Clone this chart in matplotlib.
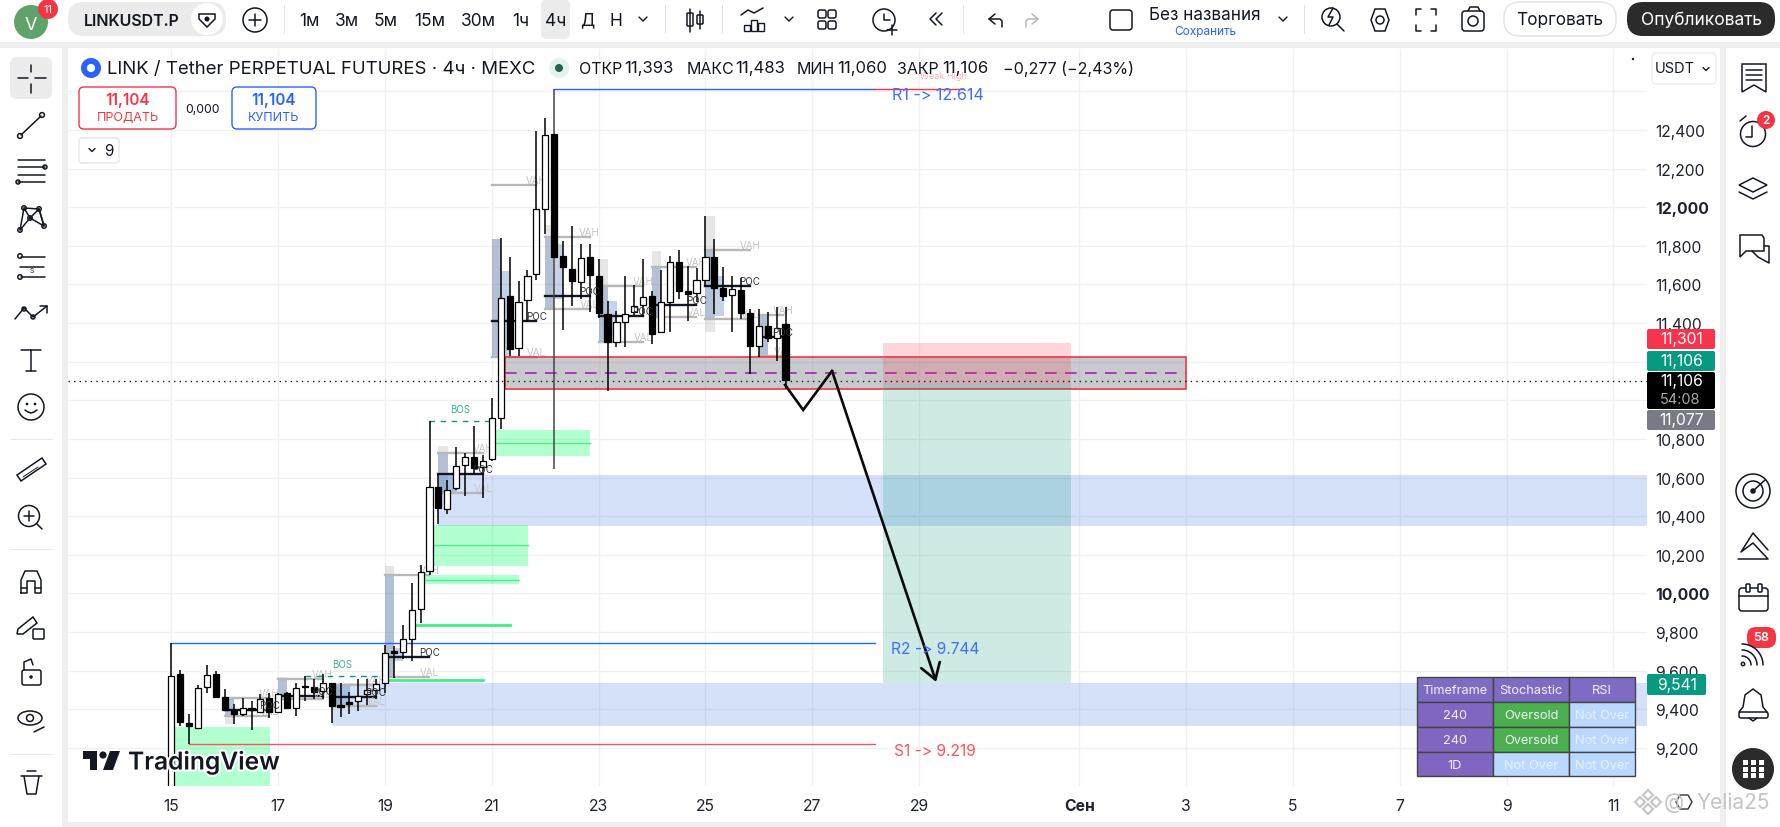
import numpy as np
import matplotlib
matplotlib.use('Agg')
import matplotlib.pyplot as plt
import matplotlib.patheffects as pe
from matplotlib.patches import Rectangle, FancyBboxPatch, Circle, Polygon, Ellipse

plt.rcParams['font.family'] = ['Inter', 'Noto Sans', 'DejaVu Sans']

# candles, 4h each, first one at day 0 (15 Aug)
opens = [8950, 9585, 9330, 9305, 9516, 9585, 9464, 9395, 9374, 9409, 9388, 9461, 9387, 9487,
         9405, 9521, 9518, 9495, 9538, 9423, 9437, 9443, 9478, 9500, 9537, 9702, 9697, 9762,
         9917, 10115, 10550, 10435, 10544, 10663, 10708, 10654, 10694, 10906, 11538, 11269,
         11521, 11654, 11991, 12379, 11746, 11680, 11611, 11740, 11642, 11447, 11300, 11407,
         11456, 11494, 11538, 11352, 11511, 11714, 11564, 11556, 11625, 11740, 11580, 11547,
         11573, 11452, 11283, 11383, 11325, 11393]
highs = [9744, 9602, 9378, 9525, 9630, 9599, 9504, 9426, 9461, 9443, 9481, 9487, 9487, 9492,
         9538, 9573, 9556, 9582, 9538, 9538, 9492, 9556, 9556, 9556, 9733, 9728, 9839, 10055,
         10147, 10892, 10616, 10587, 10759, 10728, 10866, 10716, 11010, 11839, 11740, 11620,
         11676, 12396, 12460, 12612, 11827, 11901, 11809, 11809, 11732, 11516, 11464, 11645,
         11597, 11732, 11568, 11675, 11746, 11778, 11697, 11685, 11956, 11835, 11692, 11645,
         11632, 11473, 11473, 11456, 11482, 11483]
lows = [8900, 9314, 9219, 9305, 9487, 9464, 9390, 9323, 9366, 9292, 9388, 9357, 9387, 9405,
        9366, 9443, 9452, 9452, 9331, 9361, 9378, 9392, 9423, 9452, 9487, 9564, 9658, 9650,
        9848, 10098, 10361, 10409, 10535, 10507, 10616, 10495, 10685, 10854, 11231, 11231,
        11404, 11625, 11861, 10645, 11366, 11487, 11525, 11459, 11424, 11050, 11274, 11274,
        11438, 11438, 11292, 11352, 11355, 11525, 11412, 11507, 11594, 11447, 11513, 11352,
        11421, 11136, 11223, 11300, 11205, 11060]
closes = [9571, 9336, 9314, 9509, 9578, 9464, 9397, 9374, 9405, 9395, 9456, 9388, 9481, 9409,
          9509, 9516, 9492, 9535, 9416, 9412, 9430, 9469, 9499, 9530, 9693, 9692, 9762, 9914,
          10112, 10550, 10440, 10538, 10659, 10706, 10647, 10688, 10906, 11528, 11266, 11511,
          11645, 11991, 12374, 11740, 11689, 11616, 11737, 11649, 11452, 11304, 11407, 11445,
          11490, 11533, 11343, 11507, 11714, 11564, 11549, 11625, 11740, 11580, 11542, 11577,
          11452, 11280, 11387, 11321, 11376, 11106]

# daily volume profile levels
vp_day = [1, 2, 3, 4, 5, 6, 7, 8, 9, 10, 11]
vp_vah = [9461, 9559, 9526, 10098, 10728, 12115, 11844, 11594, 11689, 11778, 11442]
vp_poc = [9399, 9469, 9464, 9671, 10616, 11409, 11542, 11438, 11495, 11594, 11326]
vp_val = [9366, 9452, 9418, 9568, 10521, 11223, 11473, 11300, 11433, 11421, 11231]
vp_len = [0.83, 0.83, 0.83, 0.83, 0.83, 0.83, 0.83, 0.83, 0.83, 0.83, 0.45]
col_top = [9461, 9559, 9526, 10098, 10728, 11835, 11844, 11594, 11689, 11778, 11442]
col_bot = [9366, 9469, 9418, 9568, 10521, 11223, 11473, 11300, 11433, 11421, 11231]
gray_top = [9461, 9565, 9526, 10141, 10763, 11835, 11908, 11732, 11775, 11956, 11442]
gray_bot = [9326, 9452, 9418, 9568, 10521, 11223, 11473, 11300, 11433, 11355, 11223]
col2_top = [None, None, 9530, 9718, 10616, 11671, 11809, 11516, None, 11642, None]
col2_bot = [None, None, 9418, 9650, 10521, 11223, 11525, 11300, None, 11438, None]

# demand boxes: start, end, top, bottom
green_x0 = [0.07, 4.90, 4.73, 6.07]
green_x1 = [1.85, 6.68, 6.51, 7.84]
green_top = [9310, 10356, 10094, 10848]
green_bot = [9000, 10142, 10051, 10712]
green_mid = [None, 10250, 10072, 10780]
thin_x0 = [4.58, 4.07]
thin_x1 = [6.34, 5.83]
thin_y = [9837, 9552]

blue_x0 = [5.0, 3.0]
blue_top = [10612, 9535]
blue_bot = [10350, 9315]

bos_x0 = [2.5, 4.83]
bos_x1 = [3.9, 5.97]
bos_y = [9570, 10892]

path_x = [11.49, 11.83, 12.37]
path_y = [11080, 10950, 11152]
arrow_tip = (14.32, 9542)

x_ticks = [0, 2, 4, 6, 8, 10, 12, 14, 17, 19, 21, 23, 25, 27]
x_labels = ['15', '17', '19', '21', '23', '25', '27', '29', 'Сен', '3', '5', '7', '9', '11']
y_ticks = list(range(9200, 12601, 200))
y_labels = ['9,200', '9,400', '9,600', '9,800', '10,000', '10,200', '10,400', '10,600', '10,800',
            '', '', '11,400', '11,600', '11,800', '12,000', '12,200', '12,400', '']

table_head = ['Timeframe', 'Stochastic', 'RSI']
table_rows = [['240', 'Oversold', 'Not Over'],
              ['240', 'Oversold', 'Not Over'],
              ['1D', 'Not Over', 'Not Over']]

intervals = ['1м', '3м', '5м', '15м', '30м', '1ч', '4ч', 'Д', 'Н']
interval_x = [309, 347, 386, 430, 478, 521, 556, 587, 616]

fig = plt.figure(figsize=(17.8, 8.28), dpi=100, facecolor='#efefef')


def pixel_axes(z):
    a = fig.add_axes([0, 0, 1, 1], zorder=z)
    a.set_xlim(0, 1780)
    a.set_ylim(828, 0)
    a.axis('off')
    a.patch.set_alpha(0)
    return a


bg = pixel_axes(0)
bg.add_patch(Rectangle((0, 0), 1780, 43, fc='white', ec='none'))
bg.add_patch(Rectangle((0, 49), 62, 779, fc='white', ec='none'))
bg.add_patch(Rectangle((68, 49), 1652, 774, fc='white', ec='none'))
bg.add_patch(Rectangle((1726, 49), 54, 779, fc='white', ec='none'))

# main chart
ax = fig.add_axes([68 / 1780, 41 / 828, 1579 / 1780, 737 / 828], zorder=1)
ax.set_xlim(-1.936, 27.63)
ax.set_ylim(9003, 12819)
ax.patch.set_alpha(0)
for s in ax.spines.values():
    s.set_visible(False)
ax.yaxis.tick_right()
ax.set_xticks(x_ticks)
ax.set_xticklabels(x_labels)
ax.set_yticks(y_ticks)
ax.set_yticklabels(y_labels)
ax.tick_params(length=0, labelsize=11.3, labelcolor='#1e222d')
ax.tick_params(axis='x', pad=9)
ax.tick_params(axis='y', pad=6)
ax.grid(color='#f1f1f1', lw=1)
ax.set_axisbelow(True)
for lab in ax.get_xticklabels():
    if lab.get_text() == 'Сен':
        lab.set_fontweight('bold')
for lab in ax.get_yticklabels():
    if lab.get_text() in ('10,000', '12,000'):
        lab.set_fontweight('bold')

# blue zones run to the right edge
for x0, t, b in zip(blue_x0, blue_top, blue_bot):
    ax.add_patch(Rectangle((x0, b), 27.63 - x0, t - b, fc='#2b6ae0', alpha=0.2, ec='none', zorder=1))

# volume profile columns and levels
for i, d in enumerate(vp_day):
    ax.add_patch(Rectangle((d, gray_bot[i]), 0.17, gray_top[i] - gray_bot[i], fc='#9e9e9e', alpha=0.25, ec='none', zorder=1.1))
    ax.add_patch(Rectangle((d, col_bot[i]), 0.17, col_top[i] - col_bot[i], fc='#2a5caa', alpha=0.27, ec='none', zorder=1.2))
    if col2_top[i] is not None:
        ax.add_patch(Rectangle((d + 0.17, col2_bot[i]), 0.17, col2_top[i] - col2_bot[i], fc='#2a5caa', alpha=0.27, ec='none', zorder=1.2))
    x1 = d + vp_len[i]
    ax.plot([d, x1], [vp_vah[i]] * 2, color='#b8b8b8', lw=1.7, zorder=1.5)
    ax.plot([d, x1], [vp_val[i]] * 2, color='#b8b8b8', lw=1.7, zorder=1.5)
    ax.plot([d, x1], [vp_poc[i]] * 2, color='#131722', lw=1.7, zorder=1.6)
    ax.text(x1, vp_vah[i], 'VAH', color='#c4c4c4', fontsize=7, ha='center', va='bottom', zorder=1.7)
    ax.text(x1, vp_val[i], 'VAL', color='#c4c4c4', fontsize=7, ha='center', va='bottom', zorder=1.7)
    ax.text(x1, vp_poc[i], 'POC', color='#333333', fontsize=7, ha='center', va='bottom', zorder=3.5)

# demand boxes
for i in range(len(green_x0)):
    ax.add_patch(Rectangle((green_x0[i], green_bot[i]), green_x1[i] - green_x0[i], green_top[i] - green_bot[i],
                           fc='#00ff66', alpha=0.3, ec='none', zorder=1.8))
    if green_mid[i] is not None:
        ax.plot([green_x0[i], green_x1[i]], [green_mid[i]] * 2, color='#4df08c', lw=1, zorder=1.9)
for x0, x1, y in zip(thin_x0, thin_x1, thin_y):
    ax.plot([x0, x1], [y, y], color='#3ef085', lw=2, zorder=1.9)

# order block
ax.add_patch(Rectangle((6.24, 11060), 12.76, 164, fc='#787b86', alpha=0.4, ec='none', zorder=2))
ax.add_patch(Rectangle((6.24, 11060), 12.76, 164, fc='none', ec='#f23645', lw=1.2, zorder=2.1))
ax.plot([6.24, 19.0], [11143, 11143], color='#9c27b0', lw=1.2, ls=(0, (7, 5)), zorder=2.1)

# short position tool
ax.add_patch(Rectangle((13.33, 11077), 3.52, 219, fc='#f23645', alpha=0.2, ec='none', zorder=2.2))
ax.add_patch(Rectangle((13.33, 9537), 3.52, 1540, fc='#089981', alpha=0.2, ec='none', zorder=2.2))

# levels
ax.plot([7.17, 13.17], [12612, 12612], color='#2962ff', lw=1, zorder=2.5)
ax.plot([13.17, 14.85], [12612, 12612], color='#f23645', lw=1, zorder=2.5)
ax.plot([0, 13.17], [9744, 9744], color='#2962ff', lw=1, zorder=2.5)
ax.plot([0.33, 13.17], [9219, 9219], color='#f7525f', lw=1, zorder=2.5)
ax.text(14.35, 12585, 'R1 -> 12.614', color='#3d6fff', fontsize=11.6, ha='center', va='center', zorder=6)
ax.text(14.3, 9715, 'R2 -> 9.744', color='#3d6fff', fontsize=11.2, ha='center', va='center', zorder=6)
ax.text(14.3, 9188, 'S1 -> 9.219', color='#f7525f', fontsize=11.2, ha='center', va='center', zorder=6)
ax.text(14.45, 12680, 'Weak High', color='#f9b3b8', fontsize=6.5, ha='center', va='center', zorder=2.5)

for x0, x1, y in zip(bos_x0, bos_x1, bos_y):
    ax.plot([x0, x1], [y, y], color='#089981', lw=1, ls=(0, (4, 4)), zorder=2.5)
    ax.text((x0 + x1) / 2, y + 65, 'BOS', color='#3db39b', fontsize=7, ha='center', va='center', zorder=2.5)

# candles
t = np.arange(len(opens)) / 6
wick_col = ['#000000'] * len(opens)
wick_col[43] = '#444444'
ax.vlines(t, lows, highs, colors=wick_col, lw=1.1, zorder=3)
o = np.array(opens)
c = np.array(closes)
ax.bar(t, np.abs(c - o), bottom=np.minimum(o, c), width=0.115, color=['white' if v else 'black' for v in c >= o],
       edgecolor='black', lw=0.9, zorder=3.1)

ax.axhline(11100, color='#131722', lw=1, ls=(0, (1, 3)), zorder=4)

ax.plot(path_x, path_y, color='#0a0a0a', lw=1.9, zorder=5, solid_joinstyle='miter')
ax.annotate('', xy=arrow_tip, xytext=(path_x[-1], path_y[-1]), zorder=5,
            arrowprops=dict(arrowstyle='->,head_length=1.1,head_width=0.7', color='#0a0a0a', lw=1.9, shrinkA=0, shrinkB=0))

# everything on top of the chart, in pixels
ui = pixel_axes(2)


def txt(x, y, s, size=11, color='#131722', ha='center', weight='normal', **kw):
    return ui.text(x, y, s, fontsize=size, color=color, ha=ha, va='center', fontweight=weight, **kw)


def ln(xs, ys, lw=1.1, color='#131722'):
    ui.plot(xs, ys, color=color, lw=lw, solid_capstyle='round')


def ring(x, y, r, lw=1.1, fc='none', ec='#131722'):
    ui.add_patch(Circle((x, y), r, fc=fc, ec=ec, lw=lw))


def box(x0, y0, x1, y1, fc='none', ec='#131722', lw=1.1, rad=3):
    ui.add_patch(FancyBboxPatch((x0 + rad, y0 + rad), x1 - x0 - 2 * rad, y1 - y0 - 2 * rad,
                                boxstyle='round,pad=%d,rounding_size=%d' % (rad, rad), fc=fc, ec=ec, lw=lw))


def chev(x, y, s=4):
    ln([x - s, x, x + s], [y - s / 2, y + s / 2, y - s / 2], lw=1)


# top bar
ring(31, 23, 17, lw=0, fc='#5fa36a', ec='none')
txt(31, 26, 'V', size=13, color='white')
ring(48, 10, 10, lw=0, fc='#f23645', ec='none')
txt(48, 10, '11', size=8, color='white')
box(68, 3, 226, 37, fc='#ebebeb', ec='none', rad=16)
txt(84, 21, 'LINKUSDT.P', size=11.5, ha='left', weight='semibold')
ring(207, 20, 16, lw=0, fc='white', ec='none')
ui.add_patch(Polygon([[199, 15], [215, 15], [215, 20], [207, 28], [199, 20]], fc='none', ec='#131722', lw=1.1))
ring(207, 20, 2.5, lw=0, fc='#131722', ec='none')
ring(255, 21, 12)
ln([249, 261], [21, 21])
ln([255, 255], [15, 27])
ln([284, 284], [6, 34], lw=0.6, color='#dddddd')
box(541, 0, 570, 40, fc='#ebebeb', ec='none', rad=6)
for x, s in zip(interval_x, intervals):
    txt(x, 21, s, size=12.5)
chev(643, 20)
for x in [665, 722, 963, 1304]:
    ln([x, x], [6, 34], lw=0.6, color='#dddddd')
# candle icon
ln([690, 690], [10, 33])
ln([700, 700], [12, 30])
box(687, 14, 693, 27, rad=1)
box(697, 16, 703, 25, rad=1)
# indicators icon
for x, h in zip([744, 751, 758], [26, 21, 24]):
    ui.add_patch(Rectangle((x, h), 6, 32 - h, fc='none', ec='#131722', lw=1))
ln([741, 748, 754, 763], [16, 11, 14, 9])
chev(789, 20)
for x in [822, 832]:
    for y in [15, 26]:
        box(x - 4, y - 4, x + 4, y + 4, rad=2)
ring(884, 21, 11)
ln([884, 884, 890], [15, 21, 21])
ln([892, 892], [26, 36])
ln([887, 897], [31, 31])
ln([936, 930, 936], [14, 20, 26])
ln([942, 936, 942], [14, 20, 26])
ln([995, 989, 995], [15, 20, 25])
ln([989, 1000, 1002, 1002], [20, 20, 22, 28])
ln([1032, 1038, 1032], [15, 20, 25], color='#b8b8b8')
ln([1038, 1028, 1026, 1026], [20, 20, 22, 28], color='#b8b8b8')
box(1110, 11, 1132, 31, rad=3)
txt(1205, 15, 'Без названия', size=12.3)
txt(1205, 32, 'Сохранить', size=8.5, color='#2962ff')
chev(1283, 20)
ring(1331, 18, 9)
ln([1337, 1344], [25, 32])
ln([1333, 1328, 1333, 1329], [9, 18, 18, 26])
ui.add_patch(Polygon([[1371, 21], [1375, 10], [1385, 10], [1389, 21], [1385, 32], [1375, 32]], fc='none', ec='#131722', lw=1.1))
ring(1380, 21, 4)
for sx, sy in [(-1, -1), (1, -1), (-1, 1), (1, 1)]:
    ln([1426 + sx * 10, 1426 + sx * 10, 1426 + sx * 5], [21 + sy * 5, 21 + sy * 11, 21 + sy * 11])
box(1462, 12, 1484, 32, rad=3)
ln([1468, 1470, 1478, 1480], [12, 8, 8, 12])
ring(1473, 22, 5)
box(1504, 3, 1616, 37, fc='white', ec='#e4e4e4', rad=16)
txt(1560, 21, 'Торговать', size=12.4)
box(1627, 3, 1775, 37, fc='#2b2b2b', ec='none', rad=16)
txt(1701, 21, 'Опубликовать', size=12.5, color='white')

# legend row
ring(91, 69, 10, lw=0, fc='#2962ff', ec='none')
ring(91, 69, 5.5, lw=2, fc='white', ec='#2962ff')
txt(107, 69, 'LINK / Tether PERPETUAL FUTURES · 4ч · MEXC', size=13.4, ha='left')
ring(559, 69, 10, lw=0, fc='#e3f2ee', ec='none')
ring(559, 69, 4, lw=0, fc='#22624e', ec='none')
for x, s in zip([579, 687, 797, 897], ['ОТКР', 'МАКС', 'МИН', 'ЗАКР']):
    txt(x, 69, s, size=11.5, ha='left')
for x, s in zip([624, 735, 837, 942], ['11,393', '11,483', '11,060', '11,106']):
    txt(x, 69, s, size=12, ha='left')
txt(1003, 69, '−0,277 (−2,43%)', size=11.6, ha='left')
ring(1633, 60, 1.2, lw=0, fc='#131722', ec='none')

box(79, 88, 176, 130, fc='white', ec='#f23645', lw=1, rad=5)
txt(128, 100, '11,104', size=11, color='#f23645', weight='semibold')
txt(128, 118, 'ПРОДАТЬ', size=9, color='#f23645')
txt(203, 110, '0,000', size=8.8)
box(232, 88, 316, 130, fc='white', ec='#2962ff', lw=1, rad=5)
txt(274, 100, '11,104', size=11, color='#2962ff', weight='semibold')
txt(274, 118, 'КУПИТЬ', size=9, color='#2962ff')
box(79, 139, 119, 164, fc='white', ec='#e6e6e6', lw=1, rad=3)
chev(92, 151, 3)
txt(109, 152, '9', size=11)
box(1652, 54, 1716, 85, fc='white', ec='#eeeeee', lw=1, rad=4)
txt(1675, 69, 'USDT', size=10.5)
chev(1706, 70, 3)

# price tags
tag_text = ['11,301', '11,106', '11,077', '9,541']
tag_col = ['#f7334d', '#089981', '#787b86', '#089981']
tag_y0 = [330, 352, 411, 675]
tag_y1 = [350, 372, 431, 696]
for s, col, y0, y1 in zip(tag_text, tag_col, tag_y0, tag_y1):
    right = 1715 if s != '9,541' else 1706
    box(1647, y0, right, y1, fc=col, ec='none', rad=2)
    txt((1647 + right) / 2 + 1, (y0 + y1) / 2, s, size=11.3, color='white')
box(1647, 373, 1715, 410, fc='black', ec='none', rad=2)
txt(1682, 382, '11,106', size=11.3, color='white')
txt(1680, 400, '54:08', size=10.5, color='#a8a8a8')

# signal table
col_edges = [1417, 1493, 1569, 1635]
row_edges = [678, 703, 728, 753, 777]
cell_fill = {'Oversold': '#4caf50', 'Not Over': '#bbd9ff'}
for j, h in enumerate(table_head):
    ui.add_patch(Rectangle((col_edges[j], row_edges[0]), col_edges[j + 1] - col_edges[j], 25, fc='#7e6bc4', ec='#444444', lw=1))
    txt((col_edges[j] + col_edges[j + 1]) / 2, 691, h, size=9.2, color='#f2f0fa')
for i, row in enumerate(table_rows):
    for j, v in enumerate(row):
        ui.add_patch(Rectangle((col_edges[j], row_edges[i + 1]), col_edges[j + 1] - col_edges[j], row_edges[i + 2] - row_edges[i + 1],
                               fc=cell_fill.get(v, '#8066c0'), ec='#444444', lw=1))
        tc = '#e8f1ff' if v == 'Not Over' else '#f2f0fa'
        txt((col_edges[j] + col_edges[j + 1]) / 2, row_edges[i + 1] + 13, v, size=9.2, color=tc)

# TradingView logo
ui.add_patch(Polygon([[83, 752], [97, 752], [97, 771], [90, 771], [90, 760], [83, 760]], fc='#131722', ec='none'))
ring(103, 756, 3.6, lw=0, fc='#131722', ec='none')
ui.add_patch(Polygon([[110, 752], [120, 752], [113, 771], [103, 771]], fc='#131722', ec='none'))
txt(128, 763, 'TradingView', size=17.7, ha='left', weight='semibold',
    path_effects=[pe.withStroke(linewidth=3, foreground='white')])

# left toolbar
box(10, 58, 52, 100, fc='#ececec', ec='none', rad=7)
ln([18, 28], [79, 79]); ln([35, 46], [79, 79]); ln([31, 31], [66, 73]); ln([31, 31], [85, 94])
ln([21, 41], [136, 117]); ring(20, 137, 2.4); ring(42, 116, 2.4)
for y in [161, 168, 176, 183]:
    ln([18, 45], [y, y])
ring(45, 168, 2); ring(18, 183, 2)
pts_x = [20, 24, 30, 39, 44]
pts_y = [231, 209, 219, 210, 227]
ln(pts_x, pts_y); ln([20, 30, 44, 39], [231, 219, 227, 210]); ln([24, 39], [209, 210])
for a, b in zip(pts_x, pts_y):
    ring(a, b, 2.2, fc='white')
ln([21, 45], [258, 258]); ln([21, 45], [278, 278]); ln([20, 44], [268, 268]); ring(20, 257, 2.2, fc='white'); ring(20, 278, 2.2, fc='white')
txt(32, 271, 'S', size=5)
ln([15, 24, 33, 47], [320, 309, 318, 307]); ln([40, 47, 47], [307, 307, 314])
ring(24, 310, 2, fc='white'); ring(33, 318, 2, fc='white')
ln([21, 41], [351, 351]); ln([31, 31], [351, 372]); ln([26, 36], [372, 372])
ring(31, 408, 13); ring(27, 405, 0.6); ring(35, 405, 0.6)
ln([25, 28, 31, 34, 37], [411, 413, 414, 413, 411])
ui.add_patch(Polygon([[17, 476], [42, 459], [46, 465], [21, 482]], fc='none', ec='#131722', lw=1.1))
ln([23, 32, 38], [478, 472, 468], lw=0.7)
ring(29, 517, 10.5); ln([24, 34], [517, 517]); ln([29, 29], [512, 522]); ln([37, 42], [525, 530])
ln([21, 21, 25, 37, 41, 41, 35, 35, 27, 27, 21], [594, 581, 572, 572, 581, 594, 594, 582, 582, 594, 594])
ln([21, 27], [589, 589]); ln([35, 41], [589, 589])
ui.add_patch(Polygon([[18, 630], [33, 618], [37, 624], [23, 635], [17, 635]], fc='none', ec='#131722', lw=1.1))
box(33, 630, 44, 640, rad=1)
box(22, 671, 41, 686, rad=2); ln([24, 24, 31, 33], [671, 663, 660, 666]); ring(31, 678, 1, fc='#131722')
ui.add_patch(Ellipse((30, 719), 24, 14, fc='none', ec='#131722', lw=1.1)); ring(30, 719, 3.5)
ln([34, 44], [733, 728])
ln([21, 42], [777, 777]); ln([24, 27, 36, 39], [777, 795, 795, 777]); ln([27, 36], [772, 772])
for y in [440, 550, 755]:
    ln([10, 52], [y, y], lw=0.6, color='#e6e6e6')

# right toolbar
ui.add_patch(Polygon([[1742, 65], [1766, 65], [1766, 93], [1754, 86], [1742, 93]], fc='none', ec='#131722', lw=1.1))
for y in [71, 76, 81]:
    ln([1746, 1762], [y, y])
ring(1753, 135, 12.5); ln([1752, 1752, 1746], [127, 138, 138]); ln([1740, 1746], [122, 117])
ring(1766, 121, 9, lw=0, fc='#f23645', ec='none')
txt(1766, 121, '2', size=8.5, color='white', weight='semibold')
ui.add_patch(Polygon([[1739, 186], [1753, 179], [1767, 186], [1753, 193]], fc='none', ec='#131722', lw=1.1))
ln([1739, 1753, 1767], [193, 200, 193])
ui.add_patch(Polygon([[1740, 236], [1762, 236], [1764, 239], [1764, 252], [1746, 252], [1740, 258]], fc='none', ec='#131722', lw=1.1))
ln([1764, 1769, 1769, 1758, 1752], [247, 247, 264, 258, 252])
ring(1753, 492, 17); ring(1753, 492, 10); ring(1753, 492, 2, fc='#131722'); ln([1753, 1765], [492, 481])
ln([1738, 1768, 1753, 1741, 1753, 1768], [560, 560, 544, 553, 534, 551])
box(1739, 589, 1768, 612, rad=3); ln([1739, 1768], [597, 597]); box(1746, 585, 1750, 593, rad=1, fc='white'); box(1758, 585, 1762, 593, rad=1, fc='white')
ring(1743, 665, 1.7)
t_arc = np.linspace(1.5 * np.pi, 2 * np.pi, 20)
for r in [9, 15, 21]:
    ln(1742 + r * np.cos(t_arc), 666 + r * np.sin(t_arc))
box(1747, 628, 1776, 649, fc='#f23645', ec='none', rad=9)
txt(1761, 638, '58', size=9, color='white', weight='semibold')
ln([1739, 1743, 1745, 1753, 1761, 1763, 1767], [713, 708, 696, 690, 696, 708, 713])
box(1739, 713, 1768, 719, rad=2)
ln([1749, 1753, 1757], [719, 722, 719])
ring(1753, 770, 21, lw=0, fc='#2b2b2b', ec='none')
for dx in [-8, 0, 8]:
    for dy in [-7, 0, 7]:
        ui.add_patch(Rectangle((1753 + dx - 2.5, 770 + dy - 2.5), 5, 5, fc='white', ec='none'))

# watermark
wm = '#c4c4c4'
for dx, dy in [(0, -7), (-8, 0), (8, 0), (0, 7)]:
    ui.add_patch(Polygon([[1648 + dx - 5, 803 + dy], [1648 + dx, 803 + dy - 5], [1648 + dx + 5, 803 + dy], [1648 + dx, 803 + dy + 5]],
                         fc='none', ec=wm, lw=1.5))
txt(1674, 803, '@', size=15, color=wm)
ui.add_patch(Polygon([[1676, 803], [1680, 796], [1688, 796], [1692, 803], [1688, 810], [1680, 810]], fc='none', ec='#333333', lw=1))
txt(1696, 803, 'Yelia25', size=15, color=wm, ha='left')

fig.savefig('out.png', dpi=100, facecolor=fig.get_facecolor())
